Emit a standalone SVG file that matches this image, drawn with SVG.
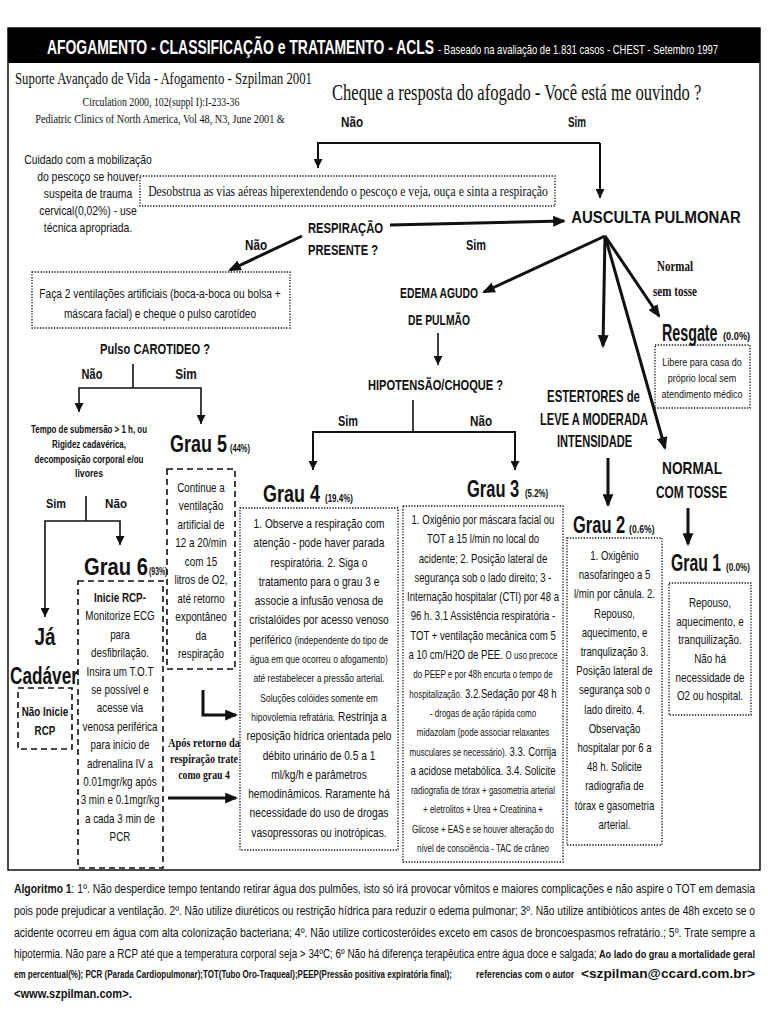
<svg xmlns="http://www.w3.org/2000/svg" width="768" height="1024" viewBox="0 0 768 1024">
<style>
text{fill:#111}
.sb{font-family:"Liberation Sans",Arial,sans-serif;font-weight:bold}
.s{font-family:"Liberation Sans",Arial,sans-serif}
.sf{font-family:"Liberation Serif","Times New Roman",serif}
.sfb{font-family:"Liberation Serif","Times New Roman",serif;font-weight:bold}
.m{text-anchor:middle}
.bt{font-family:"Liberation Sans",Arial,sans-serif;font-size:12px;text-anchor:middle}
.sm{font-size:10px}
.g{font-family:"Liberation Sans",Arial,sans-serif;font-weight:bold;font-size:24px}
.pc{font-family:"Liberation Sans",Arial,sans-serif;font-weight:bold;font-size:10px}
.dot{fill:none;stroke:#111;stroke-width:1.3;stroke-dasharray:1.3 1.5}
.dash{fill:none;stroke:#111;stroke-width:1.6;stroke-dasharray:6 4}
.c1{fill:none;stroke:#111;stroke-width:1.6}
.c2{fill:none;stroke:#111;stroke-width:2}
.c3{fill:none;stroke:#111;stroke-width:3}
</style>
<defs>
<marker id="a1" viewBox="0 0 10 10" refX="10" refY="5" markerWidth="9" markerHeight="9" markerUnits="userSpaceOnUse" orient="auto"><path d="M0,0 L10,5 L0,10 z" fill="#111"/></marker>
<marker id="a2" viewBox="0 0 12 10" refX="10" refY="5" markerWidth="13" markerHeight="11" markerUnits="userSpaceOnUse" orient="auto"><path d="M0,0 L12,5 L0,10 z" fill="#111"/></marker>
</defs>
<rect width="768" height="1024" fill="#fff"/>

<g id="frame">
<rect x="8" y="28" width="752" height="842" fill="none" stroke="#111" stroke-width="1.5"/>
</g>

<g id="header">
<rect x="8" y="28" width="752" height="35" fill="#000"/>
<text class="sb" transform="translate(47,54) scale(0.7,1)" font-size="20" style="fill:#fff" textLength="553" lengthAdjust="spacingAndGlyphs">AFOGAMENTO - CLASSIFICAÇÃO e TRATAMENTO -  ACLS</text>
<text class="s" transform="translate(438,54) scale(0.72,1)" font-size="12.5" style="fill:#fff" textLength="389" lengthAdjust="spacingAndGlyphs">- Baseado na avaliação de 1.831 casos - CHEST - Setembro 1997</text>
</g>

<g id="refs">
<text class="sf" transform="translate(15,84) scale(0.75,1)" font-size="17" textLength="396" lengthAdjust="spacingAndGlyphs">Suporte Avançado de Vida - Afogamento - Szpilman 2001</text>
<text class="sf m" transform="translate(161,106) scale(0.8,1)" font-size="13" textLength="196" lengthAdjust="spacingAndGlyphs">Circulation 2000, 102(suppl I):I-233-36</text>
<text class="sf m" transform="translate(160,123) scale(0.8,1)" font-size="13" textLength="312" lengthAdjust="spacingAndGlyphs">Pediatric Clinics of North America, Vol 48, N3, June 2001 &amp;</text>
</g>

<g id="connectors">
<path class="c2" d="M600,143 H318 V168" marker-end="url(#a1)"/>
<path class="c2" d="M600,143 V198" marker-end="url(#a1)"/>
<path class="c3" d="M390,225 L564,221" marker-end="url(#a2)"/>
<path class="c3" d="M302,236 L230,270" marker-end="url(#a2)"/>
<path class="c3" d="M605,236 L484,292" marker-end="url(#a2)"/>
<path class="c3" d="M605,236 L603,346" marker-end="url(#a2)"/>
<path class="c3" d="M605,236 L659,316" marker-end="url(#a2)"/>
<path class="c3" d="M605,236 L665,448" marker-end="url(#a2)"/>
<path class="c1" d="M438,333 V365" marker-end="url(#a1)"/>
<path class="c1" d="M413,400 V432"/>
<path class="c2" d="M413,432 H313 V470" marker-end="url(#a1)"/>
<path class="c2" d="M413,432 H515 V470" marker-end="url(#a1)"/>
<path class="c1" d="M133,364 V388"/>
<path class="c1" d="M133,388 H79 V412" marker-end="url(#a1)"/>
<path class="c1" d="M133,388 H201 V424" marker-end="url(#a1)"/>
<path class="c1" d="M86,496 V521"/>
<path class="c1" d="M86,521 H45 V617" marker-end="url(#a1)"/>
<path class="c1" d="M86,521 H120 V545" marker-end="url(#a1)"/>
<path class="c3" d="M608,458 V505" marker-end="url(#a2)"/>
<path class="c3" d="M688,508 V544" marker-end="url(#a2)"/>
<path class="c3" d="M203,690 V715 H236" marker-end="url(#a2)"/>
<path class="c3" d="M168,798 H236" marker-end="url(#a2)"/>
</g>

<g id="edge-labels">
<text class="sb m" transform="translate(352,127) scale(0.8,1)" font-size="14" textLength="27.5" lengthAdjust="spacingAndGlyphs">Não</text>
<text class="sb m" transform="translate(577,127) scale(0.8,1)" font-size="14" textLength="22.5" lengthAdjust="spacingAndGlyphs">Sim</text>
<text class="sb m" transform="translate(256,250) scale(0.8,1)" font-size="14" textLength="27.5" lengthAdjust="spacingAndGlyphs">Não</text>
<text class="sb m" transform="translate(476,250) scale(0.8,1)" font-size="14" textLength="25" lengthAdjust="spacingAndGlyphs">Sim</text>
<text class="sfb m" transform="translate(675,271) scale(0.8,1)" font-size="14" textLength="45" lengthAdjust="spacingAndGlyphs">Normal</text>
<text class="sfb m" transform="translate(675,296) scale(0.8,1)" font-size="14" textLength="55" lengthAdjust="spacingAndGlyphs">sem tosse</text>
<text class="sb m" transform="translate(92,379) scale(0.8,1)" font-size="14" textLength="26" lengthAdjust="spacingAndGlyphs">Não</text>
<text class="sb m" transform="translate(186,379) scale(0.8,1)" font-size="14" textLength="27" lengthAdjust="spacingAndGlyphs">Sim</text>
<text class="sb m" transform="translate(348,426) scale(0.8,1)" font-size="14" textLength="25" lengthAdjust="spacingAndGlyphs">Sim</text>
<text class="sb m" transform="translate(481,426) scale(0.8,1)" font-size="14" textLength="27.5" lengthAdjust="spacingAndGlyphs">Não</text>
<text class="sb m" transform="translate(56,508) scale(0.8,1)" font-size="12" textLength="25" lengthAdjust="spacingAndGlyphs">Sim</text>
<text class="sb m" transform="translate(116,508) scale(0.8,1)" font-size="12" textLength="27.5" lengthAdjust="spacingAndGlyphs">Não</text>
<text class="sfb m" transform="translate(204,747) scale(0.82,1)" font-size="11.5" textLength="88" lengthAdjust="spacingAndGlyphs">Após retorno da</text>
<text class="sfb m" transform="translate(204,763) scale(0.82,1)" font-size="11.5" textLength="83" lengthAdjust="spacingAndGlyphs">respiração trate</text>
<text class="sfb m" transform="translate(204,779) scale(0.82,1)" font-size="11.5" textLength="63" lengthAdjust="spacingAndGlyphs">como grau 4</text>
</g>

<g id="q-resposta">
<text class="sf" transform="translate(332,100) scale(0.68,1)" font-size="24" textLength="543" lengthAdjust="spacingAndGlyphs">Cheque a resposta do afogado - Você está me ouvindo ?</text>
</g>

<g id="note-cuidado">
<g transform="translate(88,0) scale(0.8,1)">
<text class="s m" x="0" y="164" font-size="13">Cuidado com a mobilização</text>
<text class="s m" x="0" y="181" font-size="13">do pescoço se houver</text>
<text class="s m" x="0" y="198" font-size="13">suspeita de trauma</text>
<text class="s m" x="0" y="215" font-size="13">cervical(0,02%) - use</text>
<text class="s m" x="0" y="232" font-size="13">técnica apropriada.</text>
</g>
</g>

<g id="desobstrua">
<rect class="dot" x="140" y="176" width="415" height="30"/>
<text class="sf m" transform="translate(348,196) scale(0.75,1)" font-size="14.5" textLength="533" lengthAdjust="spacingAndGlyphs">Desobstrua as vias aéreas hiperextendendo o pescoço e veja, ouça e sinta a respiração</text>
</g>

<g id="ausculta">
<text class="sb m" transform="translate(656,223) scale(0.82,1)" font-size="17" textLength="207" lengthAdjust="spacingAndGlyphs">AUSCULTA PULMONAR</text>
</g>

<g id="respiracao">
<text class="sb m" transform="translate(345.5,233) scale(0.8,1)" font-size="15" textLength="94" lengthAdjust="spacingAndGlyphs">RESPIRAÇÃO</text>
<text class="sb m" transform="translate(343,255) scale(0.8,1)" font-size="15" textLength="87.5" lengthAdjust="spacingAndGlyphs">PRESENTE ?</text>
</g>

<g id="faca-ventilacoes">
<rect class="dot" x="32" y="272" width="258" height="56"/>
<text class="s m" transform="translate(160,298) scale(0.8,1)" font-size="13.5" textLength="302" lengthAdjust="spacingAndGlyphs">Faça 2 ventilações artificiais (boca-a-boca ou bolsa +</text>
<text class="s m" transform="translate(160,318) scale(0.8,1)" font-size="13.5" textLength="240" lengthAdjust="spacingAndGlyphs">máscara facial) e cheque o pulso carotídeo</text>
</g>

<g id="edema">
<text class="sb m" transform="translate(439,298) scale(0.8,1)" font-size="15" textLength="97.5" lengthAdjust="spacingAndGlyphs">EDEMA AGUDO</text>
<text class="sb m" transform="translate(439,325) scale(0.8,1)" font-size="15" textLength="77.5" lengthAdjust="spacingAndGlyphs">DE PULMÃO</text>
</g>

<g id="resgate">
<text class="g" transform="translate(662,341) scale(0.75,1)" textLength="74" lengthAdjust="spacingAndGlyphs">Resgate</text>
<text class="pc" transform="translate(723,340) scale(0.8,1)" textLength="34" lengthAdjust="spacingAndGlyphs">(0.0%)</text>
<rect class="dot" x="655" y="345" width="95" height="63"/>
<g transform="translate(702,0) scale(0.82,1)">
<text class="s m" x="0" y="366" font-size="11">Libere para casa do</text>
<text class="s m" x="0" y="382" font-size="11">próprio local sem</text>
<text class="s m" x="0" y="398" font-size="11">atendimento médico</text>
</g>
</g>

<g id="pulso">
<text class="sb m" transform="translate(155,354) scale(0.8,1)" font-size="15" textLength="137.5" lengthAdjust="spacingAndGlyphs">Pulso CAROTIDEO ?</text>
</g>

<g id="hipotensao">
<text class="sb m" transform="translate(435.5,390) scale(0.8,1)" font-size="15" textLength="169" lengthAdjust="spacingAndGlyphs">HIPOTENSÃO/CHOQUE ?</text>
</g>

<g id="estertores">
<text class="sb m" transform="translate(593.5,402) scale(0.8,1)" font-size="16" textLength="116" lengthAdjust="spacingAndGlyphs">ESTERTORES de</text>
<text class="sb m" transform="translate(594,425) scale(0.8,1)" font-size="16" textLength="135" lengthAdjust="spacingAndGlyphs">LEVE A MODERADA</text>
<text class="sb m" transform="translate(594.5,447) scale(0.8,1)" font-size="16" textLength="94" lengthAdjust="spacingAndGlyphs">INTENSIDADE</text>
</g>

<g id="normal-com-tosse">
<text class="sb m" transform="translate(692,474) scale(0.8,1)" font-size="16" textLength="75" lengthAdjust="spacingAndGlyphs">NORMAL</text>
<text class="sb m" transform="translate(691.5,498) scale(0.8,1)" font-size="16" textLength="89" lengthAdjust="spacingAndGlyphs">COM TOSSE</text>
</g>

<g id="submersao">
<text class="sb m" transform="translate(89,433) scale(0.8,1)" font-size="11" textLength="145" lengthAdjust="spacingAndGlyphs">Tempo de submersão &gt; 1 h, ou</text>
<text class="sb m" transform="translate(89,448) scale(0.8,1)" font-size="11" textLength="92.5" lengthAdjust="spacingAndGlyphs">Rigidez cadavérica,</text>
<text class="sb m" transform="translate(89,463) scale(0.8,1)" font-size="11" textLength="136" lengthAdjust="spacingAndGlyphs">decomposição corporal e/ou</text>
<text class="sb m" transform="translate(89,477) scale(0.8,1)" font-size="11" textLength="35" lengthAdjust="spacingAndGlyphs">livores</text>
</g>

<g id="grau5">
<text class="g" transform="translate(170,452) scale(0.78,1)" textLength="73" lengthAdjust="spacingAndGlyphs">Grau 5</text>
<text class="pc" transform="translate(230,452) scale(0.8,1)" textLength="25" lengthAdjust="spacingAndGlyphs">(44%)</text>
<rect class="dash" x="167" y="469" width="68" height="200"/>
<g transform="translate(201,0) scale(0.82,1)">
<text class="bt" x="0" y="492">Continue a</text>
<text class="bt" x="0" y="510.5">ventilação</text>
<text class="bt" x="0" y="529">artificial de</text>
<text class="bt" x="0" y="547.5">12 a 20/min</text>
<text class="bt" x="0" y="566">com 15</text>
<text class="bt" x="0" y="584.5">litros de O2,</text>
<text class="bt" x="0" y="603">até retorno</text>
<text class="bt" x="0" y="621.5">expontâneo</text>
<text class="bt" x="0" y="640">da</text>
<text class="bt" x="0" y="658.5">respiração</text>
</g>
</g>

<g id="grau6">
<text class="g" transform="translate(84,575) scale(0.78,1)" textLength="82" lengthAdjust="spacingAndGlyphs">Grau 6</text>
<text class="pc" transform="translate(149,575) scale(0.8,1)" textLength="23" lengthAdjust="spacingAndGlyphs">(93%)</text>
<rect class="dash" x="78" y="581" width="85" height="287"/>
<g transform="translate(120,0) scale(0.82,1)">
<text class="bt" x="0" y="602" font-weight="bold">Inicie RCP-</text>
<text class="bt" x="0" y="620.4">Monitorize ECG</text>
<text class="bt" x="0" y="638.8">para</text>
<text class="bt" x="0" y="657.2">desfibrilação.</text>
<text class="bt" x="0" y="675.6">Insira um T.O.T</text>
<text class="bt" x="0" y="694">se possível e</text>
<text class="bt" x="0" y="712.4">acesse via</text>
<text class="bt" x="0" y="730.8">venosa periférica</text>
<text class="bt" x="0" y="749.2">para início de</text>
<text class="bt" x="0" y="767.6">adrenalina IV  a</text>
<text class="bt" x="0" y="786">0.01mgr/kg após</text>
<text class="bt" x="0" y="804.4">3 min e 0.1mgr/kg</text>
<text class="bt" x="0" y="822.8">a cada 3 min de</text>
<text class="bt" x="0" y="841.2">PCR</text>
</g>
</g>

<g id="cadaver">
<text class="sb m" x="45" y="645" font-size="24" textLength="21" lengthAdjust="spacingAndGlyphs">Já</text>
<text class="sb" transform="translate(10,684) scale(0.8,1)" font-size="24" textLength="85" lengthAdjust="spacingAndGlyphs">Cadáver</text>
<rect class="dash" x="18" y="688" width="54" height="61"/>
<g transform="translate(45,0) scale(0.82,1)">
<text class="bt" x="0" y="716" font-weight="bold">Não Inicie</text>
<text class="bt" x="0" y="735" font-weight="bold">RCP</text>
</g>
</g>

<g id="grau4">
<text class="g" transform="translate(263,502) scale(0.78,1)" textLength="73" lengthAdjust="spacingAndGlyphs">Grau 4</text>
<text class="pc" transform="translate(325,502) scale(0.8,1)" textLength="35" lengthAdjust="spacingAndGlyphs">(19.4%)</text>
<rect class="dot" x="240" y="508" width="158" height="342"/>
<g transform="translate(319,0) scale(0.85,1)">
<text class="bt" x="0" y="528">1. Observe a respiração com</text>
<text class="bt" x="0" y="547.3">atenção - pode haver parada</text>
<text class="bt" x="0" y="566.6">respiratória. 2. Siga o</text>
<text class="bt" x="0" y="585.9">tratamento para o grau 3 e</text>
<text class="bt" x="0" y="605.2">associe a infusão venosa de</text>
<text class="bt" x="0" y="624.5">cristalóides por acesso venoso</text>
<text class="bt" x="0" y="643.8">periférico <tspan class="sm">(independente do tipo de</tspan></text>
<text class="bt sm" x="0" y="663.1">água em que ocorreu o afogamento)</text>
<text class="bt sm" x="0" y="682.4">até restabelecer a pressão arterial.</text>
<text class="bt sm" x="0" y="701.7">Soluções colóides somente em</text>
<text class="bt" x="0" y="721"><tspan class="sm">hipovolemia refratária.</tspan> Restrinja a</text>
<text class="bt" x="0" y="740.3">reposição hídrica orientada pelo</text>
<text class="bt" x="0" y="759.6">débito urinário de 0.5 a 1</text>
<text class="bt" x="0" y="778.9">ml/kg/h e parâmetros</text>
<text class="bt" x="0" y="798.2">hemodinâmicos. Raramente há</text>
<text class="bt" x="0" y="817.5">necessidade do uso de drogas</text>
<text class="bt" x="0" y="836.8">vasopressoras ou inotrópicas.</text>
</g>
</g>

<g id="grau3">
<text class="g" transform="translate(467,497) scale(0.78,1)" textLength="67" lengthAdjust="spacingAndGlyphs">Grau 3</text>
<text class="pc" transform="translate(525,497) scale(0.8,1)" textLength="29" lengthAdjust="spacingAndGlyphs">(5.2%)</text>
<rect class="dot" x="403" y="506" width="160" height="356"/>
<g transform="translate(483,0) scale(0.8,1)">
<text class="bt" x="0" y="524">1. Oxigênio por máscara facial ou</text>
<text class="bt" x="0" y="543.3">TOT a 15 l/min no local do</text>
<text class="bt" x="0" y="562.6">acidente; 2. Posição lateral de</text>
<text class="bt" x="0" y="581.9">segurança sob o lado direito; 3 -</text>
<text class="bt" x="0" y="601.2">Internação hospitalar (CTI) por 48 a</text>
<text class="bt" x="0" y="620.5">96 h. 3.1 Assistência respiratória -</text>
<text class="bt" x="0" y="639.8">TOT + ventilação mecânica com 5</text>
<text class="bt" x="0" y="659.1">a 10 cm/H2O de PEE. <tspan class="sm">O uso precoce</tspan></text>
<text class="bt sm" x="0" y="678.4">do PEEP e por 48h encurta o tempo de</text>
<text class="bt" x="0" y="697.7"><tspan class="sm">hospitalização.</tspan> 3.2.Sedação por 48 h</text>
<text class="bt sm" x="0" y="717">- drogas de ação rápida como</text>
<text class="bt sm" x="0" y="736.3">midazolam (pode associar relaxantes</text>
<text class="bt" x="0" y="755.6"><tspan class="sm">musculares se necessário).</tspan> 3.3. Corrija</text>
<text class="bt" x="0" y="774.9">a acidose metabólica. 3.4. Solicite</text>
<text class="bt sm" x="0" y="794.2">radiografia de tórax + gasometria arterial</text>
<text class="bt sm" x="0" y="813.5">+ eletrolitos + Urea + Creatinina +</text>
<text class="bt sm" x="0" y="832.8">Glicose + EAS e se houver alteração do</text>
<text class="bt sm" x="0" y="852.1">nível de consciência - TAC de crâneo</text>
</g>
</g>

<g id="grau2">
<text class="g" transform="translate(573,533) scale(0.78,1)" textLength="67" lengthAdjust="spacingAndGlyphs">Grau 2</text>
<text class="pc" transform="translate(629,533) scale(0.8,1)" textLength="32" lengthAdjust="spacingAndGlyphs">(0.6%)</text>
<rect class="dot" x="567" y="538" width="95" height="307"/>
<g transform="translate(614.5,0) scale(0.8,1)">
<text class="bt" x="0" y="560">1. Oxigênio</text>
<text class="bt" x="0" y="579.2">nasofaringeo a 5</text>
<text class="bt" x="0" y="598.4">l/min por cânula. 2.</text>
<text class="bt" x="0" y="617.6">Repouso,</text>
<text class="bt" x="0" y="636.8">aquecimento, e</text>
<text class="bt" x="0" y="656">tranqulização 3.</text>
<text class="bt" x="0" y="675.2">Posição lateral de</text>
<text class="bt" x="0" y="694.4">segurança sob o</text>
<text class="bt" x="0" y="713.6">lado direito. 4.</text>
<text class="bt" x="0" y="732.8">Observação</text>
<text class="bt" x="0" y="752">hospitalar por 6 a</text>
<text class="bt" x="0" y="771.2">48 h. Solicite</text>
<text class="bt" x="0" y="790.4">radiografia de</text>
<text class="bt" x="0" y="809.6">tórax e gasometria</text>
<text class="bt" x="0" y="828.8">arterial.</text>
</g>
</g>

<g id="grau1">
<text class="g" transform="translate(671,571) scale(0.78,1)" textLength="64" lengthAdjust="spacingAndGlyphs">Grau 1</text>
<text class="pc" transform="translate(726,571) scale(0.8,1)" textLength="30" lengthAdjust="spacingAndGlyphs">(0.0%)</text>
<rect class="dot" x="669" y="583" width="82" height="132"/>
<g transform="translate(710,0) scale(0.82,1)">
<text class="bt" x="0" y="607">Repouso,</text>
<text class="bt" x="0" y="625.7">aquecimento, e</text>
<text class="bt" x="0" y="644.4">tranquilização.</text>
<text class="bt" x="0" y="663.1">Não há</text>
<text class="bt" x="0" y="681.8">necessidade de</text>
<text class="bt" x="0" y="700.5">O2 ou hospital.</text>
</g>
</g>

<g id="footer" transform="translate(14,0) scale(0.75,1)">
<text class="s" x="0" y="893" font-size="13.5" textLength="988" lengthAdjust="spacingAndGlyphs"><tspan font-weight="bold">Algoritmo 1</tspan>: 1º. Não desperdice tempo tentando retirar água dos pulmões, isto só irá provocar vômitos e maiores complicações e não aspire o TOT em demasia</text>
<text class="s" x="0" y="915" font-size="13.5" textLength="988" lengthAdjust="spacingAndGlyphs">pois pode prejudicar a ventilação. 2º. Não utilize diuréticos ou restrição hídrica para reduzir o edema pulmonar; 3º. Não utilize antibióticos antes de 48h exceto se o</text>
<text class="s" x="0" y="937" font-size="13.5" textLength="988" lengthAdjust="spacingAndGlyphs">acidente ocorreu em água com alta colonização bacteriana; 4º. Não utilize corticosteróides exceto em casos de broncoespasmos refratário.; 5º. Trate sempre a</text>
<text class="s" x="0" y="958" font-size="13.5" textLength="777" lengthAdjust="spacingAndGlyphs">hipotermia. Não pare a RCP até que a temperatura corporal seja &gt; 34ºC; 6º Não há diferença terapêutica entre água doce e salgada;</text>
<text class="sb" x="780" y="958" font-size="10" textLength="208" lengthAdjust="spacingAndGlyphs">Ao lado do grau a mortalidade geral</text>
<text class="sb" x="0" y="978" font-size="10" textLength="584" lengthAdjust="spacingAndGlyphs">em percentual(%); PCR (Parada Cardiopulmonar);TOT(Tubo Oro-Traqueal);PEEP(Pressão positiva expiratória final);</text>
<text class="sb" x="616" y="978" font-size="10" textLength="131" lengthAdjust="spacingAndGlyphs">referencias com o autor</text>
<text class="sb" x="756" y="978" font-size="13" textLength="232" lengthAdjust="spacingAndGlyphs">&lt;szpilman@ccard.com.br&gt;</text>
<text class="sb" x="0" y="998" font-size="13" textLength="157" lengthAdjust="spacingAndGlyphs">&lt;www.szpilman.com&gt;.</text>
</g>
</svg>
